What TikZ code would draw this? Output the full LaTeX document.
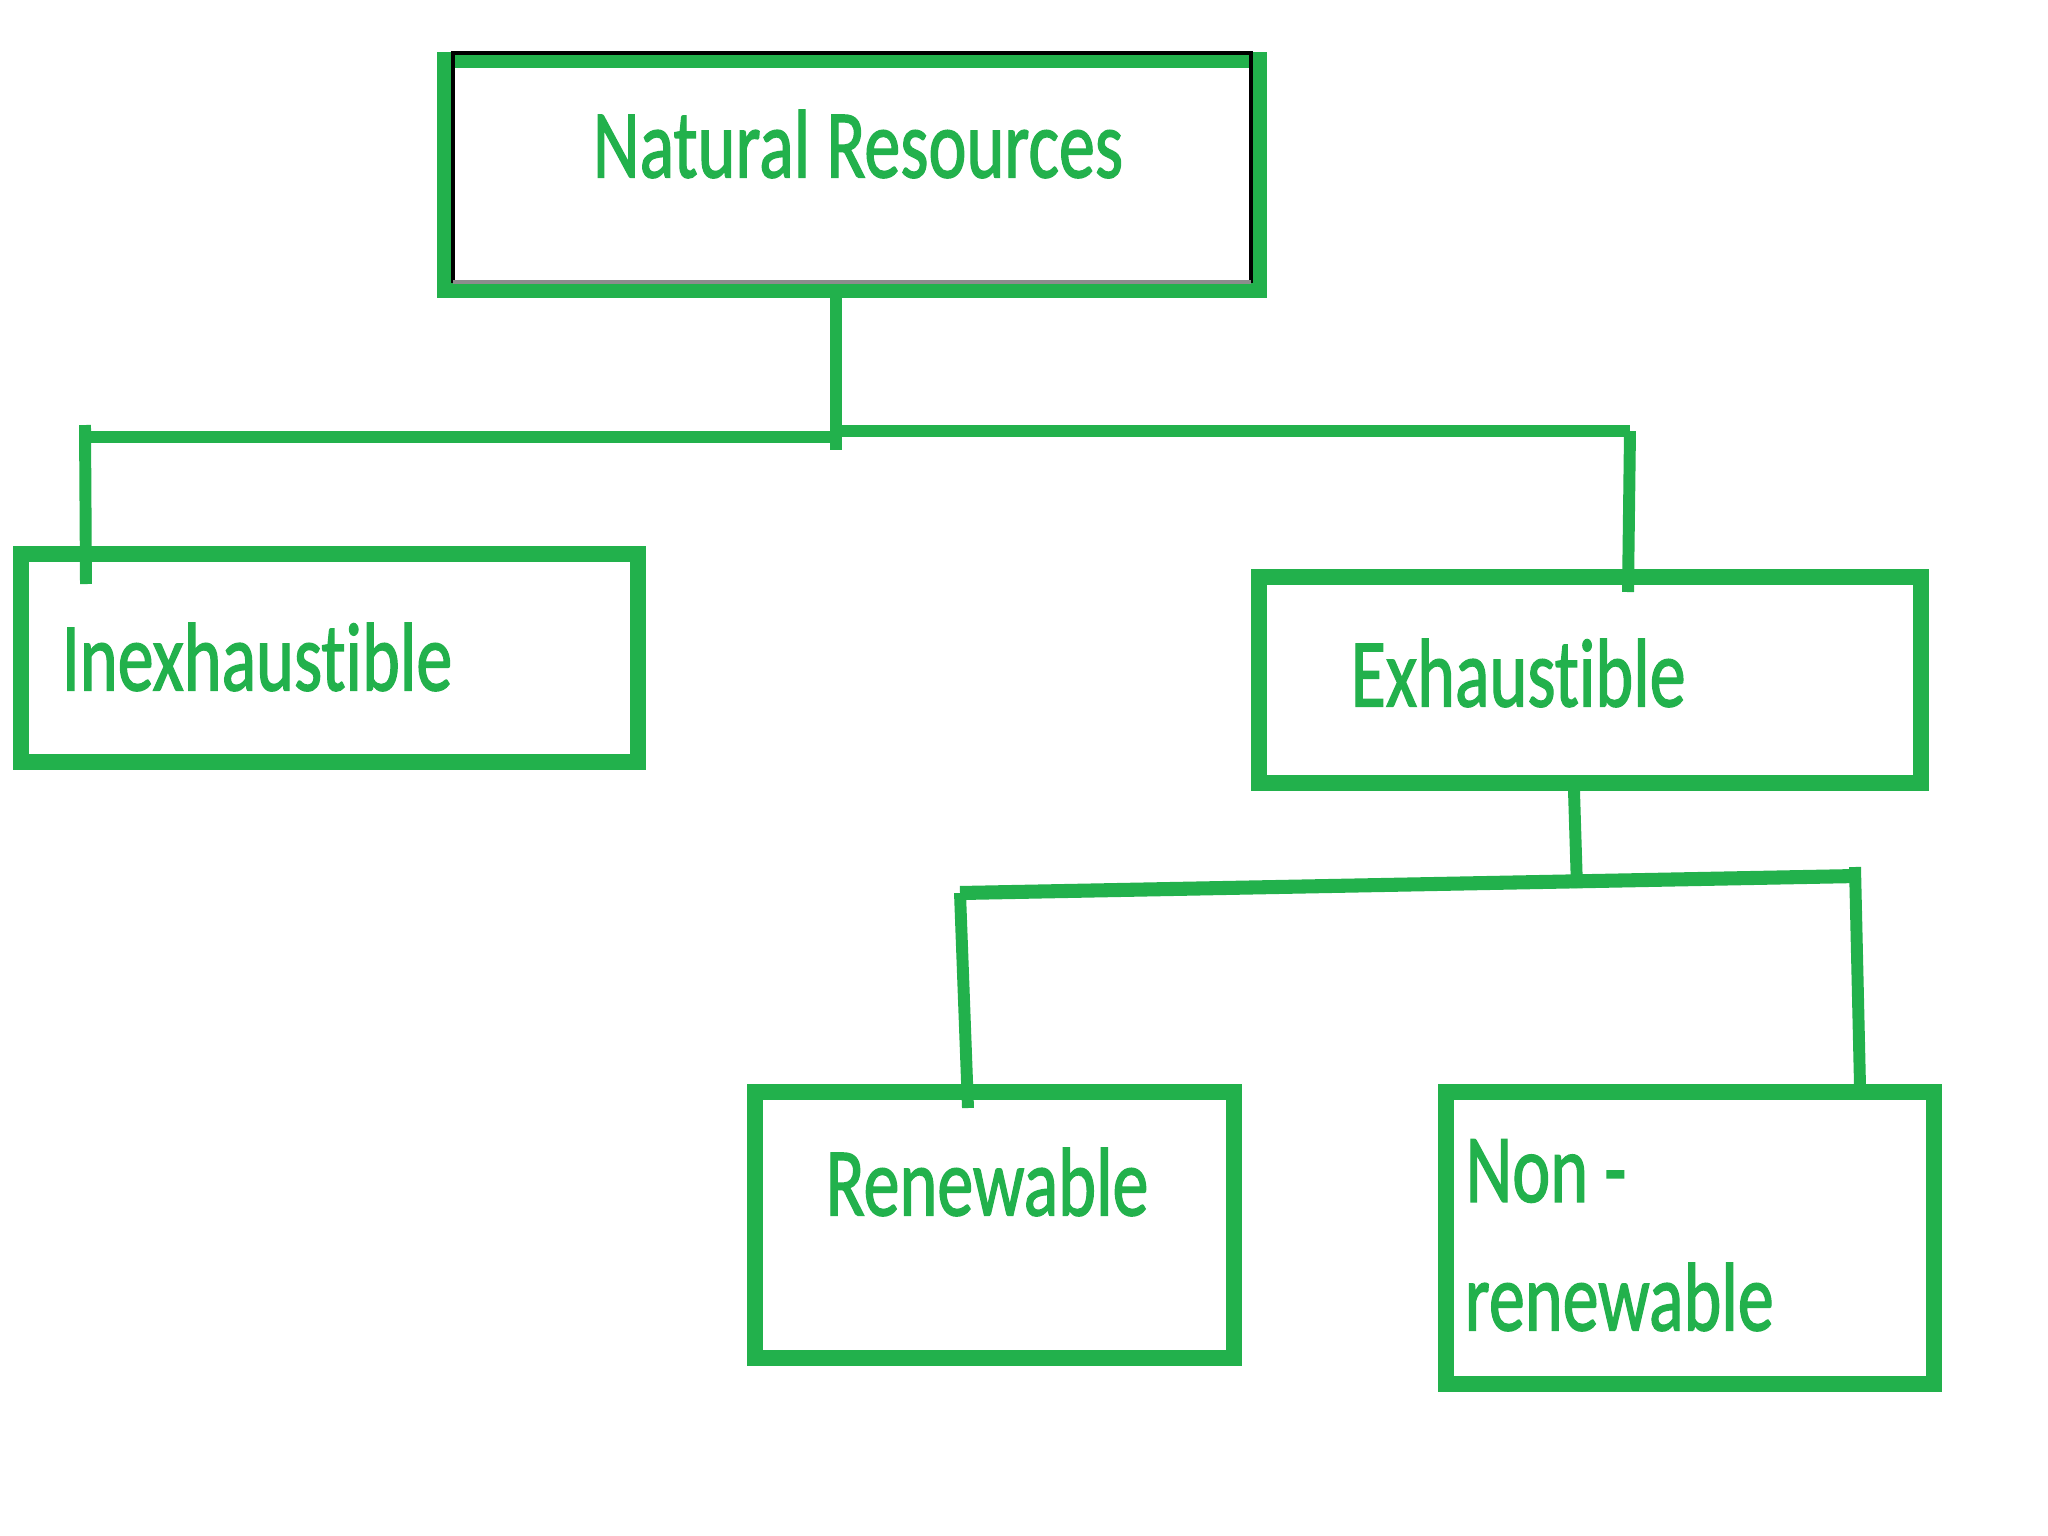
\documentclass[tikz,border=0pt]{standalone}
\usepackage{fontspec}
\setmainfont{Carlito}[Ligatures={NoCommon}]
\newfontfamily\lblfont{Carlito}[Ligatures={NoCommon}, FakeBold=1.6]
\usetikzlibrary{calc}
\definecolor{pgreen}{RGB}{34,177,76}
\begin{document}
\begin{tikzpicture}[x=0.01cm,y=-0.01cm,
  box/.style={draw=pgreen, line width=4.4pt, rectangle, inner sep=0pt, fill=white},
  conn/.style={draw=pgreen, line width=3.4pt},
  lbl/.style={text=pgreen, inner sep=0pt, font=\lblfont\fontsize{20.5}{24}\selectfont}]
\useasboundingbox (0,0) rectangle (2048,1536);
\fill[white] (0,0) rectangle (2048,1536);

% junction and end points of the connectors
\coordinate (j1top) at (836,298);
\coordinate (j1) at (836,450);
\coordinate (hl) at (82,437);
\coordinate (hm1) at (840,437);
\coordinate (hm2) at (832,431);
\coordinate (hr) at (1630,431);
\coordinate (vl1) at (85,425);
\coordinate (vl2) at (86,584);
\coordinate (vr2) at (1628,592);
\coordinate (e1) at (1574,791);
\coordinate (e2) at (1577,888);
\coordinate (lh1) at (960,893);
\coordinate (lh2) at (1857,876);
\coordinate (lv2) at (968,1108);
\coordinate (rv1) at (1855,867);
\coordinate (rv2) at (1860,1086);

% boxes
\node[box, minimum width=8.14cm, minimum height=2.30cm] (nr) at (852,175) {};
\node[box, minimum width=6.17cm, minimum height=2.08cm] (inex) at (329.5,658) {};
\node[box, minimum width=6.62cm, minimum height=2.06cm] (exh) at (1590,680) {};
\node[box, minimum width=4.79cm, minimum height=2.66cm] (ren) at (994.5,1225) {};
\node[box, minimum width=4.88cm, minimum height=2.92cm] (non) at (1690,1238) {};

% thin dark inner edge of the top box
\draw[black, line width=0.9pt] (453,283) -- (453,53) -- (1251,53) -- (1251,283);
\draw[black!45, line width=0.9pt] (453,282) -- (1251,282);

\draw[conn] (j1top) -- (j1);
\draw[conn] (hl) -- (hm1);
\draw[conn] (hm2) -- (hr);
\draw[conn] (vl1) -- (vl2);
\draw[conn] (hr) -- (vr2);
\draw[conn] (e1) -- (e2);
\draw[conn, line width=4pt] (lh1) -- (lh2);
\draw[conn] (lh1) -- (lv2);
\draw[conn] (rv1) -- (rv2);

% labels
\node[lbl] (tnr) at (858,144) {\scalebox{1}[1.35]{Natural Resources}};
\node[lbl, anchor=west] (tinex) at (61,657) {\scalebox{1}[1.35]{Inexhaustible}};
\node[lbl, anchor=west] (texh) at (1350,673) {\scalebox{1}[1.35]{Exhaustible}};
\node[lbl, anchor=west] (tren) at (825,1182) {\scalebox{1}[1.35]{Renewable}};
\node[lbl, anchor=west] (tnon) at (1465,1171) {\scalebox{1}[1.35]{Non -}};
\node[lbl, anchor=west] (tnon2) at (1464,1297) {\scalebox{1}[1.35]{renewable}};
\end{tikzpicture}
\end{document}
